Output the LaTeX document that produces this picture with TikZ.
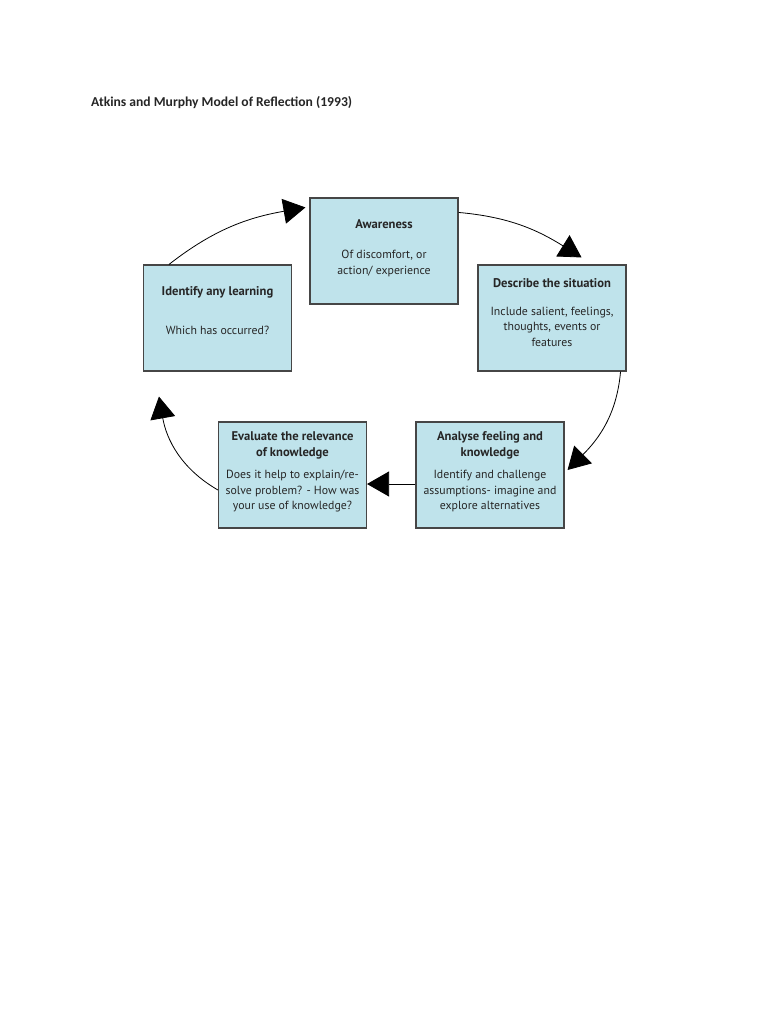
\documentclass[tikz,border=0pt]{standalone}
\usepackage{fontspec}
\setmainfont{PT Sans}
\newfontfamily\titlefont{Carlito}
\usetikzlibrary{arrows.meta,calc}
\definecolor{boxfill}{RGB}{191,227,235}
\definecolor{boxline}{RGB}{70,70,70}
\newcommand{\hd}[1]{{\fontsize{12.6}{15.5}\selectfont\bfseries #1}}
\begin{document}
\begin{tikzpicture}[x=1pt,y=1pt,
  box/.style={draw=boxline,line width=1.1pt,fill=boxfill,minimum width=148pt,minimum height=106pt,inner sep=0pt},
  txt/.style={align=center,font=\fontsize{11.8}{15.5}\selectfont,text=black!85,inner sep=0pt},
  conn/.style={line width=0.8pt,-{Triangle[length=22pt,width=25pt]}}]
\useasboundingbox[fill=white] (0,0) rectangle (768,-1024);
\node[anchor=west,inner sep=0pt,font=\titlefont\bfseries\fontsize{13.6}{15}\selectfont,text=black!85] (title) at (91,-103) {Atkins and Murphy Model of Reflection (1993)};
% boxes
\node[box] (aw) at (384,-251) {};
\node[box] (de) at (552,-318) {};
\node[box] (id) at (217.5,-318) {};
\node[box] (an) at (490,-475) {};
\node[box] (ev) at (292.5,-475) {};
% texts
\node[txt] (awt) at (384,-248) {\hd{Awareness}\\[15pt]Of discomfort, or\\action/ experience};
\node[txt] (det) at (552,-312.5) {\hd{Describe the situation}\\[12pt]Include salient, feelings,\\thoughts, events or\\features};
\node[txt] (idt) at (217.5,-310.5) {\hd{Identify any learning}\\[23pt]Which has occurred?};
\node[txt] (ant) at (490,-472) {\hd{Analyse feeling and}\\\hd{knowledge}\\[7pt]Identify and challenge\\assumptions- imagine and\\explore alternatives};
\node[txt] (evt) at (292.5,-472) {\hd{Evaluate the relevance}\\\hd{of knowledge}\\[7pt]Does it help to explain/re-\\solve problem? - How was\\your use of knowledge?};
% connector ends
\coordinate (e1) at ($(aw.north west)+(-4,-10)$);
\coordinate (e2) at ($(de.north east)+(-45,7)$);
\coordinate (e3) at ($(an.east)+(3,5)$);
\coordinate (e5) at ($(id.south west)+(16,-25)$);
\draw[conn] ($(id.north west)+(26,0)$) to[out=38,in=190] (e1);
\draw[conn] ($(aw.north east)+(0,-15)$) to[out=-5,in=148] (e2);
\draw[conn] ($(de.south east)+(-6,0)$) to[out=-95,in=45] (e3);
\draw[conn] (an.west |- 0,-484) -- (ev.east |- 0,-484);
\draw[conn] ($(ev.west)+(0,-15)$) to[out=150,in=-80] (e5);
\end{tikzpicture}
\end{document}
